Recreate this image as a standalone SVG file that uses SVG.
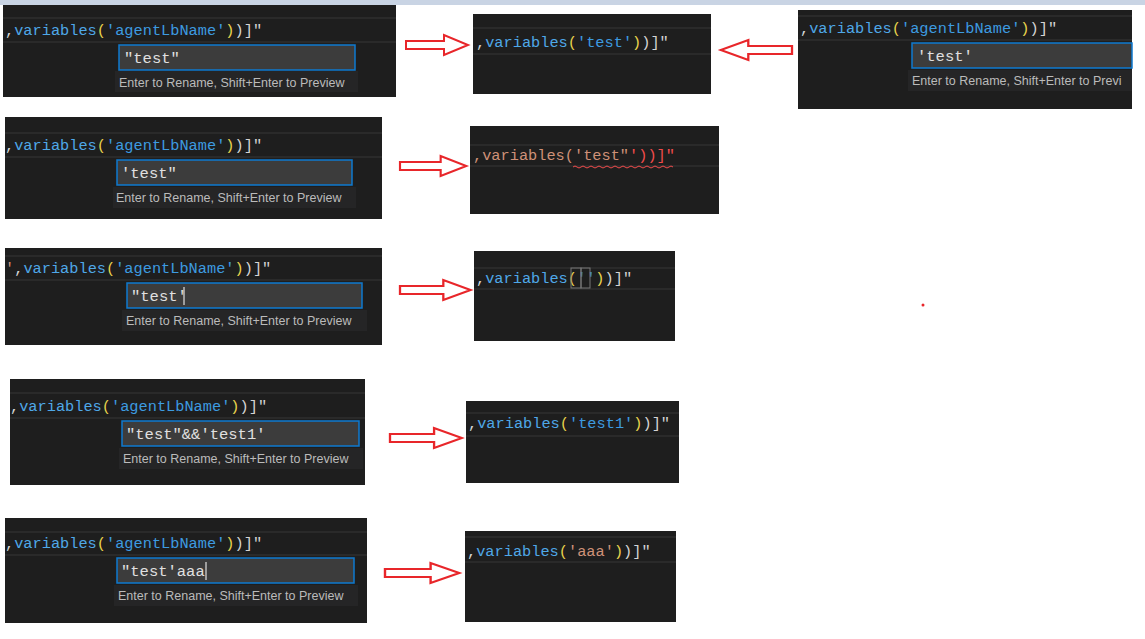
<svg xmlns="http://www.w3.org/2000/svg" width="1145" height="639" viewBox="0 0 1145 639">
<style>
.p{fill:#1e1e1e}.ln{stroke:#2a2a2a;stroke-width:2}
.c{font-family:"Liberation Mono","DejaVu Sans Mono",monospace;font-size:15.3px;fill:#d4d4d4}
.v{fill:#4fa8e8}.s{fill:#3d9be0}.y{fill:#e8d44d}.o{fill:#ce9178}.r{fill:#f14c4c}
.in{fill:#3c3c3c;stroke:#0e7ad0;stroke-width:1.5}
.it{font-family:"Liberation Mono","DejaVu Sans Mono",monospace;font-size:15.5px;fill:#e0e0e0}
.hb{fill:#252526}.h{font-family:"Liberation Sans",Arial,sans-serif;font-size:12.5px;fill:#bbbbbb}
.ar{fill:none;stroke:#e8262a;stroke-width:2}
</style>
<defs><path id="a" d="M0,-4H38V-10L62,0L38,10V4H0Z"/></defs>
<rect width="1145" height="639" fill="#fff"/>
<rect width="1145" height="5" fill="#c9d4e4"/>
<g id="p1"><rect class="p" x="3" y="5" width="393" height="92"/><line class="ln" x1="3" y1="18" x2="396" y2="18"/><line class="ln" x1="3" y1="42" x2="396" y2="42"/>
<text class="c" x="5" y="35">,<tspan class="v">variables</tspan><tspan class="y">(</tspan><tspan class="s">'agentLbName'</tspan><tspan class="y">)</tspan>)]"</text>
<rect class="in" x="119" y="45" width="236" height="25"/><text class="it" x="124" y="63">"test"</text>
<rect class="hb" x="115" y="71" width="243" height="21"/><text class="h" x="119" y="87">Enter to Rename, Shift+Enter to Preview</text></g>
<g id="p2"><rect class="p" x="473" y="14" width="238" height="80"/><line class="ln" x1="473" y1="28" x2="711" y2="28"/><line class="ln" x1="473" y1="54" x2="711" y2="54"/>
<text class="c" x="476" y="47">,<tspan class="v">variables</tspan><tspan class="y">(</tspan><tspan class="s">'test'</tspan><tspan class="y">)</tspan>)]"</text></g>
<g id="p3"><rect class="p" x="798" y="10" width="334" height="99"/><line class="ln" x1="798" y1="16" x2="1132" y2="16"/><line class="ln" x1="798" y1="40" x2="1132" y2="40"/>
<text class="c" x="800" y="33">,<tspan class="v">variables</tspan><tspan class="y">(</tspan><tspan class="s">'agentLbName'</tspan><tspan class="y">)</tspan>)]"</text>
<rect class="in" x="912" y="43" width="220" height="25"/><text class="it" x="917" y="61">'test'</text>
<rect class="hb" x="908" y="70" width="224" height="21"/><text class="h" x="912" y="85">Enter to Rename, Shift+Enter to Previ</text></g>
<g id="p4"><rect class="p" x="5" y="117" width="377" height="102"/><line class="ln" x1="5" y1="133" x2="382" y2="133"/><line class="ln" x1="5" y1="157" x2="382" y2="157"/>
<text class="c" x="5" y="150">,<tspan class="v">variables</tspan><tspan class="y">(</tspan><tspan class="s">'agentLbName'</tspan><tspan class="y">)</tspan>)]"</text>
<rect class="in" x="117" y="160" width="235" height="25"/><text class="it" x="121" y="178">'test"</text>
<rect class="hb" x="113" y="187" width="243" height="21"/><text class="h" x="116" y="202">Enter to Rename, Shift+Enter to Preview</text></g>
<g id="p5"><rect class="p" x="470" y="126" width="249" height="88"/><line class="ln" x1="470" y1="145" x2="719" y2="145"/><line class="ln" x1="470" y1="166" x2="719" y2="166"/>
<text class="c o" x="473" y="160">,variables('test"<tspan class="r">'))]"</tspan></text>
<path d="M573,167q2,-2 4,0t4,0t4,0t4,0t4,0t4,0t4,0t4,0t4,0t4,0t4,0t4,0t4,0t4,0t4,0t4,0t4,0t4,0t4,0t4,0t4,0t4,0t4,0t4,0t4,0" fill="none" stroke="#f14c4c" stroke-width="1"/></g>
<g id="p6"><rect class="p" x="5" y="248" width="377" height="97"/><line class="ln" x1="5" y1="256" x2="382" y2="256"/><line class="ln" x1="5" y1="280" x2="382" y2="280"/>
<text class="c" x="5" y="273"><tspan class="o">'</tspan>,<tspan class="v">variables</tspan><tspan class="y">(</tspan><tspan class="s">'agentLbName'</tspan><tspan class="y">)</tspan>)]"</text>
<rect class="in" x="127" y="283" width="235" height="25"/><text class="it" x="131" y="301">"test'</text><line x1="184" y1="287" x2="184" y2="305" stroke="#fff"/>
<rect class="hb" x="122" y="310" width="245" height="21"/><text class="h" x="126" y="325">Enter to Rename, Shift+Enter to Preview</text></g>
<g id="p7"><rect class="p" x="474" y="251" width="201" height="90"/><line class="ln" x1="474" y1="268" x2="675" y2="268"/><line class="ln" x1="474" y1="289" x2="675" y2="289"/>
<text class="c" x="476" y="283">,<tspan class="v">variables</tspan><tspan class="y">(</tspan><tspan class="s">''</tspan><tspan class="y">)</tspan>)]"</text>
<rect x="571" y="268" width="10" height="20" fill="none" stroke="#777"/><rect x="581" y="268" width="9" height="20" fill="none" stroke="#777"/></g>
<g id="p8"><rect class="p" x="10" y="379" width="355" height="106"/><line class="ln" x1="10" y1="393" x2="365" y2="393"/><line class="ln" x1="10" y1="418" x2="365" y2="418"/>
<text class="c" x="10" y="411">,<tspan class="v">variables</tspan><tspan class="y">(</tspan><tspan class="s">'agentLbName'</tspan><tspan class="y">)</tspan>)]"</text>
<rect class="in" x="122" y="421" width="237" height="25"/><text class="it" x="126" y="439">"test"&amp;&amp;'test1'</text>
<rect class="hb" x="119" y="448" width="244" height="21"/><text class="h" x="123" y="463">Enter to Rename, Shift+Enter to Preview</text></g>
<g id="p9"><rect class="p" x="466" y="401" width="213" height="82"/><line class="ln" x1="466" y1="413" x2="679" y2="413"/><line class="ln" x1="466" y1="436" x2="679" y2="436"/>
<text class="c" x="468" y="428">,<tspan class="v">variables</tspan><tspan class="y">(</tspan><tspan class="s">'test1'</tspan><tspan class="y">)</tspan>)]"</text></g>
<g id="p10"><rect class="p" x="5" y="518" width="362" height="105"/><line class="ln" x1="5" y1="532" x2="367" y2="532"/><line class="ln" x1="5" y1="555" x2="367" y2="555"/>
<text class="c" x="5" y="548">,<tspan class="v">variables</tspan><tspan class="y">(</tspan><tspan class="s">'agentLbName'</tspan><tspan class="y">)</tspan>)]"</text>
<rect class="in" x="117" y="558" width="237" height="25"/><text class="it" x="121" y="576">"test'aaa</text><line x1="206" y1="562" x2="206" y2="580" stroke="#fff"/>
<rect class="hb" x="114" y="585" width="244" height="21"/><text class="h" x="118" y="600">Enter to Rename, Shift+Enter to Preview</text></g>
<g id="p11"><rect class="p" x="465" y="531" width="211" height="91"/><line class="ln" x1="465" y1="537" x2="676" y2="537"/><line class="ln" x1="465" y1="562" x2="676" y2="562"/>
<text class="c" x="467" y="556">,<tspan class="v">variables</tspan><tspan class="y">(</tspan><tspan class="o">'aaa'</tspan><tspan class="y">)</tspan>)]"</text></g>
<g id="connectors">
<use href="#a" class="ar" transform="translate(406,45)"/>
<use href="#a" class="ar" transform="translate(792,50) scale(-1.15,1)"/>
<use href="#a" class="ar" transform="translate(400,166) scale(1.07,1)"/>
<use href="#a" class="ar" transform="translate(400,290) scale(1.14,1)"/>
<use href="#a" class="ar" transform="translate(390,438) scale(1.16,1)"/>
<use href="#a" class="ar" transform="translate(385,573) scale(1.2,1)"/>
</g>
<circle cx="923" cy="305" r="1.5" fill="#e8262a"/>
</svg>
